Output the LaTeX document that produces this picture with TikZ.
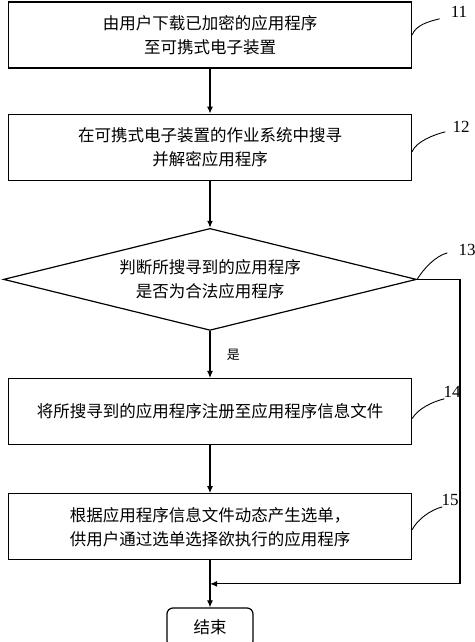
\documentclass[tikz,border=0pt]{standalone}
\usepackage{fontspec}
\setmainfont{Noto Sans CJK SC}
\newfontfamily\numfont{Liberation Serif}
\usetikzlibrary{shapes.geometric, positioning, arrows.meta, calc}
\tikzset{
  stepbox/.style={rectangle, minimum width=403pt, minimum height=66pt, align=center, draw=black, line width=1.2pt, font=\fontsize{16.5}{24}\selectfont},
  decision/.style={diamond, aspect=4, minimum width=413pt, minimum height=102pt, inner sep=0pt, align=center, draw=black, line width=1.2pt, font=\fontsize{16.5}{24}\selectfont},
  endbox/.style={rectangle, rounded corners=6pt, minimum width=86pt, minimum height=39pt, align=center, draw=black, line width=1.2pt, font=\fontsize{16.5}{20}\selectfont},
  numlabel/.style={font=\numfont\fontsize{17}{19}\selectfont, inner sep=1pt},
  leader/.style={line width=0.9pt},
  arrow/.style={line width=1.2pt, -{Latex[length=7pt,width=6pt]}}
}
\begin{document}
\begin{tikzpicture}[x=1pt, y=1pt]
    \useasboundingbox (0,0) rectangle (474,642);

    \node (b1) [stepbox] at (210,607) {由用户下载已加密的应用程序\\至可携式电子装置};

    \node (b2) [stepbox, below=45pt of b1]
    {在可携式电子装置的作业系统中搜寻\\并解密应用程序};

    \node (d) [decision, below=47pt of b2]
    {判断所搜寻到的应用程序\\是否为合法应用程序};

    \node (b4) [stepbox, below=47pt of d]
    {将所搜寻到的应用程序注册至应用程序信息文件};

    \node (b5) [stepbox, below=48pt of b4]
    {根据应用程序信息文件动态产生选单，\\供用户通过选单选择欲执行的应用程序};

    \node (end) [endbox, below=47pt of b5] {结束};

    % 标号
    \node (n11) [numlabel] at (459,630) {11};
    \node (n12) [numlabel] at (461,515) {12};
    \node (n13) [numlabel] at (467,392) {13};
    \node (n14) [numlabel] at (452,250) {14};
    \node (n15) [numlabel] at (450,142) {15};

    \draw [leader] (b1.east) .. controls +(4,10) and +(-12,-3) .. ([xshift=-10pt]n11.south west);
    \draw [leader] ([yshift=-4.5pt]b2.east) .. controls +(4,10) and +(-12,-3) .. ([shift={(-6pt,2pt)}]n12.south west);
    \draw [leader] (d.east) .. controls +(6,10) and +(-12,-3) .. ([shift={(-10pt,4pt)}]n13.south west);
    \draw [leader] ([yshift=-7pt]b4.east) .. controls +(6,10) and +(-12,-3) .. ([xshift=2pt]n14.south west);
    \draw [leader] ([yshift=-3pt]b5.east) .. controls +(5,10) and +(-12,-3) .. ([xshift=2pt]n15.south west);

    % 箭头
    \draw [arrow] (b1) -- (b2);
    \draw [arrow] (b2) -- (d);
    \draw [arrow] (d) -- node[right=13pt, font=\fontsize{13}{15}\selectfont] {是} (b4);
    \draw [arrow] (b4) -- (b5);
    \draw [arrow] (b5) -- (end);

    % 不合法时跳到结束
    \coordinate (merge) at ($(b5.south)!0.5!(end.north)$);
    \coordinate (turn) at ($(merge)+(250pt,0)$);
    \draw [arrow] (d.east) -| (turn) -- (merge);

\end{tikzpicture}
\end{document}
